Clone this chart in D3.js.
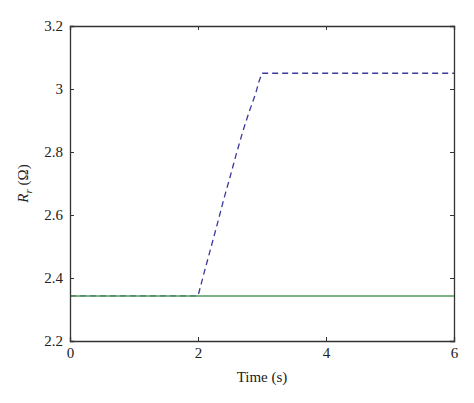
<!DOCTYPE html>
<html>
<head>
<meta charset="utf-8">
<script src="https://cdn.jsdelivr.net/npm/d3@7"></script>
<style>
body { margin: 0; background: #fff; }
svg text { font-family: "Liberation Serif", "Times New Roman", serif !important; fill: #222; }
</style>
</head>
<body>
<script>
var w = 474
var h = 403

// series data
var rampTime = [0, 2, 2.1, 2.2, 2.3, 2.4, 2.5, 2.6, 2.7, 2.8, 2.9, 2.95, 3, 6]
var rampValue = [2.343, 2.343, 2.42, 2.495, 2.57, 2.648, 2.72, 2.795, 2.865, 2.928, 2.985, 3.022, 3.05, 3.05]
var flatTime = [0, 6]
var flatValue = [2.343, 2.343]

var xTicks = [0, 2, 4, 6]
var yTicks = [2.2, 2.4, 2.6, 2.8, 3, 3.2]

var margin = {top: 26, right: 20, bottom: 62, left: 70}

var x = d3.scaleLinear()
    .domain([0, 6])
    .range([margin.left, w - margin.right])

var y = d3.scaleLinear()
    .domain([2.2, 3.2])
    .range([h - margin.bottom, margin.top])

var svg = d3.select("body")
    .append("svg")
    .attr("width", w)
    .attr("height", h)

var line = d3.line()
    .x(function (d) { return x(d[0]) })
    .y(function (d) { return y(d[1]) })

var ramp = rampTime.map(function (t, i) { return [t, rampValue[i]] })
var flat = flatTime.map(function (t, i) { return [t, flatValue[i]] })

svg.append("path")
    .datum(ramp)
    .attr("d", line)
    .attr("fill", "none")
    .attr("stroke", "#3a3a9c")
    .attr("stroke-width", 1.3)
    .attr("stroke-dasharray", "6,4")

svg.append("path")
    .datum(flat)
    .attr("d", line)
    .attr("fill", "none")
    .attr("stroke", "#4f9a5c")
    .attr("stroke-width", 1.4)

// axes, ticks pointing inward
var axisColor = "#333"
svg.append("g")
    .attr("transform", "translate(0," + y(2.2) + ")")
    .call(d3.axisBottom(x).tickValues(xTicks).tickSize(-4).tickPadding(6).tickFormat(d3.format("")))
svg.append("g")
    .attr("transform", "translate(0," + y(3.2) + ")")
    .call(d3.axisTop(x).tickValues(xTicks).tickSize(-4).tickFormat(""))
svg.append("g")
    .attr("transform", "translate(" + x(0) + ",0)")
    .call(d3.axisLeft(y).tickValues(yTicks).tickSize(-4).tickPadding(7).tickFormat(d3.format("")))
svg.append("g")
    .attr("transform", "translate(" + x(6) + ",0)")
    .call(d3.axisRight(y).tickValues(yTicks).tickSize(-4).tickFormat(""))

svg.selectAll("g").attr("font-family", null)
svg.selectAll(".domain").attr("stroke", axisColor).attr("stroke-width", 1.3)
svg.selectAll(".tick line").attr("stroke", axisColor)
svg.selectAll(".tick text")
    .style("font-size", "15px")
    .attr("fill", "#222")

svg.append("text")
    .attr("x", x(3))
    .attr("y", 382)
    .attr("text-anchor", "middle")
    .style("font-size", "15px")
    .text("Time (s)")

var ylab = svg.append("text")
    .attr("transform", "translate(28," + y(2.7) + ") rotate(-90)")
    .attr("text-anchor", "middle")
    .style("font-size", "15px")
ylab.append("tspan").style("font-style", "italic").text("R")
ylab.append("tspan").style("font-style", "italic").style("font-size", "11px").attr("dy", 4).text("r")
ylab.append("tspan").attr("dy", -4).text(" (Ω)")
</script>
</body>
</html>
